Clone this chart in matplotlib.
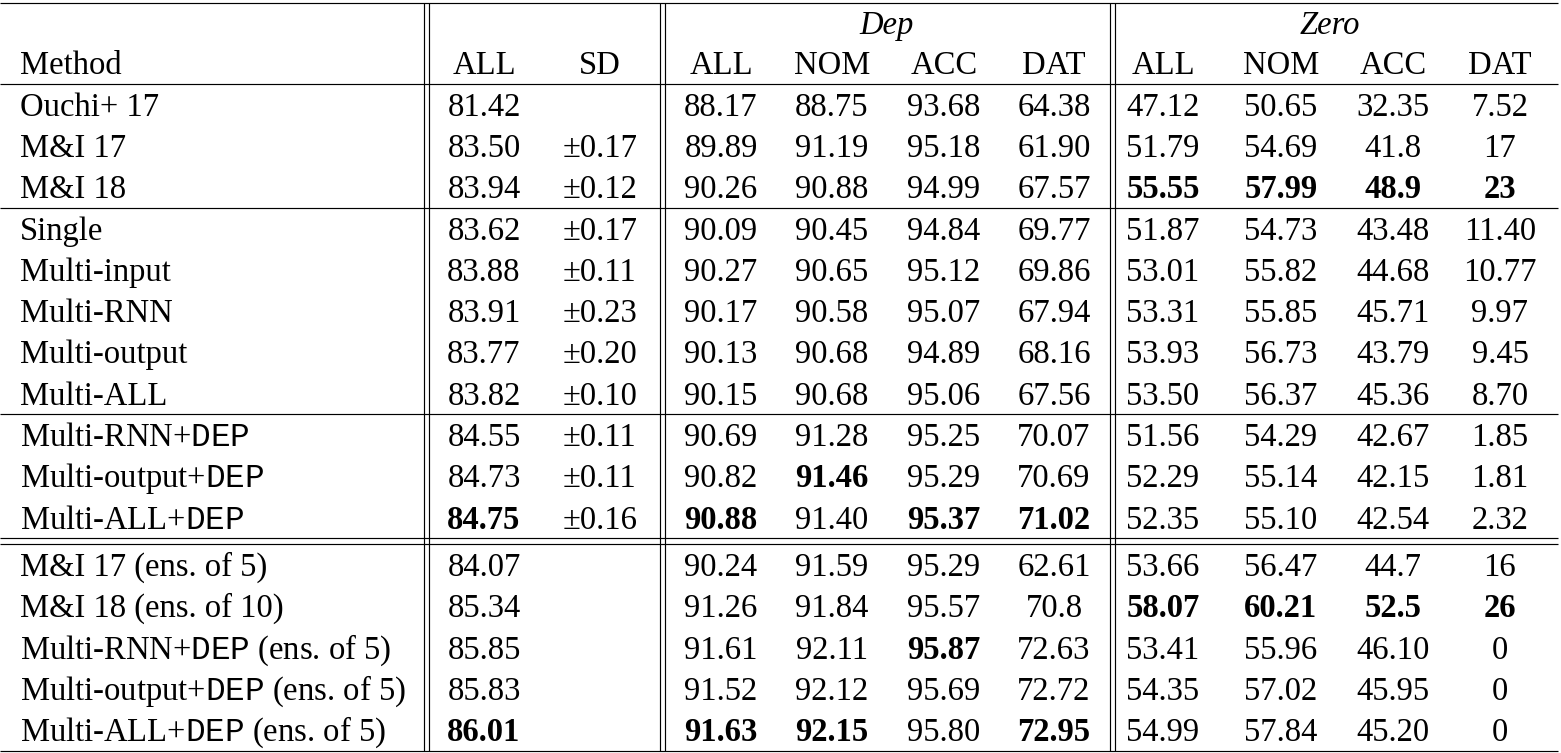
import matplotlib
matplotlib.use("Agg")
import matplotlib.pyplot as plt

plt.rcParams['font.family'] = ['Liberation Serif', 'DejaVu Serif']
plt.rcParams['mathtext.fontset'] = 'custom'
plt.rcParams['mathtext.rm'] = 'Liberation Serif'
plt.rcParams['mathtext.tt'] = 'Liberation Mono'

# column headers
group_labels = ['Dep', 'Zero']
col_labels = ['ALL', 'SD', 'ALL', 'NOM', 'ACC', 'DAT', 'ALL', 'NOM', 'ACC', 'DAT']

methods = [
    'Ouchi+ 17', 'M&I 17', 'M&I 18',
    'Single', 'Multi-input', 'Multi-RNN', 'Multi-output', 'Multi-ALL',
    r'Multi-RNN+$\mathtt{DEP}$', r'Multi-output+$\mathtt{DEP}$', r'Multi-ALL+$\mathtt{DEP}$',
    'M&I 17 (ens. of 5)', 'M&I 18 (ens. of 10)',
    r'Multi-RNN+$\mathtt{DEP}$ (ens. of 5)', r'Multi-output+$\mathtt{DEP}$ (ens. of 5)',
    r'Multi-ALL+$\mathtt{DEP}$ (ens. of 5)',
]

values = [
    ['81.42', '', '88.17', '88.75', '93.68', '64.38', '47.12', '50.65', '32.35', '7.52'],
    ['83.50', '±0.17', '89.89', '91.19', '95.18', '61.90', '51.79', '54.69', '41.8', '17'],
    ['83.94', '±0.12', '90.26', '90.88', '94.99', '67.57', '55.55', '57.99', '48.9', '23'],
    ['83.62', '±0.17', '90.09', '90.45', '94.84', '69.77', '51.87', '54.73', '43.48', '11.40'],
    ['83.88', '±0.11', '90.27', '90.65', '95.12', '69.86', '53.01', '55.82', '44.68', '10.77'],
    ['83.91', '±0.23', '90.17', '90.58', '95.07', '67.94', '53.31', '55.85', '45.71', '9.97'],
    ['83.77', '±0.20', '90.13', '90.68', '94.89', '68.16', '53.93', '56.73', '43.79', '9.45'],
    ['83.82', '±0.10', '90.15', '90.68', '95.06', '67.56', '53.50', '56.37', '45.36', '8.70'],
    ['84.55', '±0.11', '90.69', '91.28', '95.25', '70.07', '51.56', '54.29', '42.67', '1.85'],
    ['84.73', '±0.11', '90.82', '91.46', '95.29', '70.69', '52.29', '55.14', '42.15', '1.81'],
    ['84.75', '±0.16', '90.88', '91.40', '95.37', '71.02', '52.35', '55.10', '42.54', '2.32'],
    ['84.07', '', '90.24', '91.59', '95.29', '62.61', '53.66', '56.47', '44.7', '16'],
    ['85.34', '', '91.26', '91.84', '95.57', '70.8', '58.07', '60.21', '52.5', '26'],
    ['85.85', '', '91.61', '92.11', '95.87', '72.63', '53.41', '55.96', '46.10', '0'],
    ['85.83', '', '91.52', '92.12', '95.69', '72.72', '54.35', '57.02', '45.95', '0'],
    ['86.01', '', '91.63', '92.15', '95.80', '72.95', '54.99', '57.84', '45.20', '0'],
]

# (row, col) of bold cells
bold_cells = [
    (2, 6), (2, 7), (2, 8), (2, 9),
    (9, 3),
    (10, 0), (10, 2), (10, 4), (10, 5),
    (12, 6), (12, 7), (12, 8), (12, 9),
    (13, 4),
    (15, 0), (15, 2), (15, 3), (15, 5),
]

# layout (pixels)
W, H = 1561, 753
fs = 23.5
x_left, x_right = 0, 1558
x_method = 20
col_x = [484, 600, 721, 832, 944, 1054, 1163, 1281, 1393, 1500]
group_x = [887, 1330]
vlines = [424, 429, 660, 665, 1110, 1115]
top = 2.5
head_h = 40.6
body_top = 84
row_h = 41.3
group_sizes = [3, 5, 3, 5]
gap = 6
base_off = 11

fig = plt.figure(figsize=(W / 100, H / 100), dpi=100)
ax = fig.add_axes([0, 0, 1, 1])
ax.set_xlim(0, W)
ax.set_ylim(H, 0)
ax.axis('off')

lw = 0.85
# row centres
row_y = []
y = body_top
hlines = [top, body_top]
for gi, n in enumerate(group_sizes):
    for _ in range(n):
        row_y.append(y + row_h / 2)
        y += row_h
    hlines.append(y)
    if gi == 2:
        y += gap
        hlines.append(y)
bottom = y

for yy in hlines:
    ax.plot([x_left, x_right], [yy, yy], color='black', lw=lw, solid_capstyle='butt')
for xx in vlines:
    ax.plot([xx, xx], [top, bottom], color='black', lw=lw, solid_capstyle='butt')

# headers
h1 = top + head_h / 2 + base_off
h2 = top + head_h * 1.5 + base_off
for lab, gx in zip(group_labels, group_x):
    ax.text(gx, h1, lab, fontsize=fs, style='italic', ha='center', va='baseline')
ax.text(x_method, h2, 'Method', fontsize=fs, ha='left', va='baseline')
for lab, cx in zip(col_labels, col_x):
    ax.text(cx, h2, lab, fontsize=fs, ha='center', va='baseline')

# body
for r, (m, row) in enumerate(zip(methods, values)):
    yb = row_y[r] + base_off
    ax.text(x_method, yb, m, fontsize=fs, ha='left', va='baseline')
    for c, v in enumerate(row):
        if not v:
            continue
        w = 'bold' if (r, c) in bold_cells else 'normal'
        ax.text(col_x[c], yb, v, fontsize=fs, ha='center', va='baseline', fontweight=w)

fig.savefig('out.png', dpi=100)
